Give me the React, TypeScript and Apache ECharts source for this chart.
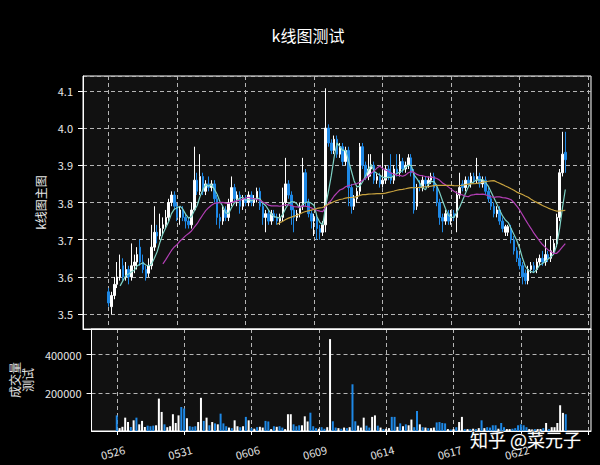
import React, { useEffect, useRef } from 'react';
import * as echarts from 'echarts';

const tickLabels = ['0526', '0531', '0606', '0609', '0614', '0617', '0622'];
const barsPerTick = 24;
const padBars = 9;

const opens = [
  3.56,3.52,3.55,3.58,3.60,3.63,3.60,3.62,3.60,3.63,
  3.64,3.68,3.64,3.62,3.61,3.63,3.68,3.72,3.71,3.73,
  3.74,3.76,3.80,3.82,3.79,3.76,3.78,3.76,3.75,3.74,
  3.78,3.86,3.83,3.87,3.83,3.85,3.84,3.85,3.81,3.76,
  3.75,3.78,3.76,3.80,3.84,3.81,3.82,3.79,3.81,3.80,
  3.82,3.80,3.81,3.83,3.79,3.76,3.77,3.75,3.77,3.76,
  3.75,3.76,3.80,3.85,3.82,3.78,3.76,3.77,3.79,3.88,
  3.80,3.77,3.75,3.76,3.73,3.72,3.74,4.00,3.96,3.94,
  3.97,3.93,3.95,3.91,3.94,3.84,3.79,3.81,3.83,3.95,
  3.90,3.87,3.89,3.90,3.86,3.87,3.85,3.86,3.89,3.88,
  3.86,3.89,3.88,3.91,3.89,3.90,3.92,3.88,3.79,3.85,
  3.84,3.86,3.85,3.86,3.87,3.84,3.80,3.76,3.75,3.77,
  3.75,3.77,3.76,3.82,3.85,3.84,3.86,3.85,3.87,3.86,
  3.87,3.85,3.86,3.83,3.81,3.79,3.77,3.78,3.75,3.72,
  3.72,3.73,3.70,3.67,3.65,3.63,3.61,3.59,3.62,3.63,
  3.62,3.64,3.65,3.64,3.66,3.65,3.67,3.69,3.76,3.88,
  3.935,
];
const closes = [
  3.53,3.55,3.58,3.60,3.62,3.60,3.62,3.60,3.63,3.64,
  3.66,3.64,3.62,3.60,3.63,3.68,3.72,3.71,3.73,3.74,
  3.76,3.80,3.82,3.79,3.76,3.78,3.76,3.75,3.74,3.78,
  3.86,3.83,3.87,3.83,3.85,3.84,3.85,3.81,3.76,3.75,
  3.78,3.76,3.80,3.84,3.81,3.82,3.79,3.81,3.80,3.82,
  3.80,3.81,3.83,3.79,3.76,3.77,3.75,3.77,3.76,3.75,
  3.76,3.80,3.85,3.82,3.78,3.76,3.77,3.79,3.88,3.80,
  3.77,3.75,3.76,3.73,3.72,3.74,4.00,3.96,3.94,3.97,
  3.93,3.95,3.91,3.94,3.84,3.79,3.81,3.83,3.95,3.90,
  3.87,3.89,3.90,3.86,3.87,3.85,3.86,3.89,3.87,3.86,
  3.89,3.88,3.91,3.89,3.90,3.92,3.88,3.78,3.84,3.84,
  3.86,3.85,3.86,3.87,3.84,3.80,3.76,3.75,3.77,3.75,
  3.77,3.76,3.82,3.84,3.84,3.86,3.85,3.87,3.86,3.87,
  3.85,3.86,3.83,3.81,3.79,3.77,3.78,3.75,3.73,3.735,
  3.735,3.70,3.67,3.65,3.63,3.60,3.59,3.62,3.63,3.62,
  3.64,3.65,3.64,3.66,3.65,3.67,3.69,3.76,3.88,3.93,
  3.915,
];
const lows = [
  3.52,3.50,3.54,3.57,3.59,3.59,3.59,3.58,3.59,3.61,
  3.62,3.63,3.61,3.59,3.60,3.62,3.67,3.69,3.70,3.71,
  3.73,3.75,3.79,3.78,3.75,3.74,3.75,3.73,3.73,3.73,
  3.78,3.82,3.82,3.82,3.82,3.83,3.83,3.80,3.74,3.73,
  3.74,3.75,3.75,3.79,3.80,3.79,3.77,3.78,3.79,3.79,
  3.79,3.79,3.80,3.78,3.74,3.72,3.74,3.74,3.75,3.74,
  3.74,3.75,3.79,3.81,3.74,3.72,3.75,3.76,3.78,3.79,
  3.76,3.73,3.71,3.70,3.70,3.71,3.72,3.95,3.93,3.93,
  3.92,3.92,3.90,3.90,3.79,3.77,3.78,3.80,3.82,3.89,
  3.86,3.86,3.87,3.85,3.85,3.84,3.84,3.85,3.86,3.85,
  3.85,3.87,3.87,3.88,3.88,3.89,3.87,3.77,3.78,3.83,
  3.83,3.84,3.84,3.85,3.83,3.79,3.74,3.72,3.74,3.74,
  3.74,3.75,3.72,3.81,3.83,3.83,3.84,3.84,3.85,3.85,
  3.84,3.84,3.82,3.80,3.78,3.76,3.76,3.74,3.72,3.71,
  3.71,3.69,3.66,3.64,3.62,3.58,3.58,3.58,3.61,3.61,
  3.61,3.63,3.63,3.63,3.64,3.64,3.66,3.68,3.75,3.87,
  3.88,
];
const highs = [
  3.57,3.56,3.60,3.64,3.66,3.65,3.64,3.63,3.69,3.66,
  3.68,3.70,3.66,3.63,3.65,3.74,3.79,3.74,3.77,3.76,
  3.78,3.81,3.83,3.83,3.80,3.79,3.79,3.77,3.76,3.80,
  3.95,3.88,3.93,3.88,3.86,3.87,3.86,3.86,3.82,3.77,
  3.79,3.79,3.81,3.87,3.85,3.83,3.83,3.82,3.82,3.83,
  3.83,3.82,3.84,3.84,3.80,3.78,3.78,3.78,3.78,3.77,
  3.77,3.84,3.92,3.86,3.83,3.79,3.78,3.80,3.92,3.89,
  3.81,3.78,3.77,3.77,3.74,3.75,4.107,4.01,3.97,3.98,
  3.98,3.96,3.96,3.95,3.95,3.85,3.82,3.84,3.96,3.96,
  3.91,3.93,3.93,3.91,3.88,3.88,3.93,3.90,3.90,3.93,
  3.90,3.93,3.93,3.92,3.91,3.93,3.93,3.89,3.85,3.86,
  3.87,3.87,3.87,3.88,3.88,3.85,3.81,3.77,3.78,3.78,
  3.78,3.78,3.83,3.88,3.86,3.87,3.87,3.88,3.88,3.92,
  3.88,3.87,3.87,3.84,3.82,3.80,3.79,3.79,3.76,3.74,
  3.74,3.74,3.71,3.68,3.66,3.64,3.62,3.63,3.64,3.64,
  3.65,3.66,3.67,3.70,3.67,3.71,3.70,3.77,3.89,3.99,
  3.99,
];
const volumes = [
  82000,15000,22000,70000,47000,21000,56000,70000,35000,53000,
  21000,28000,25000,28000,30000,170000,100000,35000,20000,25000,
  88000,42000,82000,126000,118000,67000,25000,22000,25000,47000,
  174000,53000,70000,30000,47000,40000,35000,91000,40000,25000,
  18000,15000,56000,25000,20000,25000,74000,56000,15000,12000,
  20000,22000,18000,53000,50000,10000,25000,22000,25000,18000,
  10000,88000,88000,35000,25000,30000,30000,77000,50000,96000,
  25000,15000,12000,20000,12000,20000,482000,51000,18000,15000,
  12000,18000,15000,20000,245000,51000,28000,18000,70000,28000,
  18000,74000,82000,28000,18000,10000,12000,15000,74000,74000,
  22000,40000,25000,35000,30000,60000,20000,105000,35000,20000,
  18000,15000,15000,18000,45000,47000,42000,40000,10000,8000,
  10000,20000,47000,74000,10000,10000,10000,12000,10000,15000,
  56000,15000,20000,18000,30000,30000,12000,42000,20000,10000,
  10000,12000,15000,30000,35000,30000,20000,10000,8000,10000,
  10000,10000,15000,42000,10000,20000,20000,42000,135000,95000,
  88000,
];

const maPeriods = [5, 20, 60];
const maColors = ['#7fd3c6', '#b33fb5', '#c9a33f'];
const UP = '#ffffff';
const DOWN = '#1e88e5';
const FONT = '"Noto Sans CJK SC", "Noto Sans", sans-serif';
const LABEL = '#e6e6e6';
const GRIDLINE = { type: [4, 3] as any, color: '#b5b5b5', width: 1 };

export default function App() {
  const ref = useRef<HTMLDivElement>(null);
  useEffect(() => {
    const chart = echarts.init(ref.current!, null, { renderer: 'svg' });
    const n = closes.length;
    const total = padBars + n + padBars;
    const isTick = (k: number) => k >= padBars && (k - padBars) % barsPerTick === 0;
    const categories = Array.from({ length: total }, (_, k) => 'c' + k);

    const candleData = closes.map((c, i) => [i + padBars, opens[i], c, lows[i], highs[i]]);
    const volData = volumes.map((v, i) => ({
      value: [i + padBars, v],
      itemStyle: { color: closes[i] >= opens[i] ? UP : DOWN },
    }));
    const maSeries = maPeriods.map((p, m) => {
      const data: any[] = [];
      for (let i = p - 1; i < n; i++) {
        let s = 0;
        for (let j = i - p + 1; j <= i; j++) s += closes[j];
        data.push([i + padBars, s / p]);
      }
      return {
        type: 'line', name: 'MA' + p, xAxisIndex: 0, yAxisIndex: 0,
        data, showSymbol: false, symbol: 'none', smooth: false,
        lineStyle: { color: maColors[m], width: 1.2 }, encode: { x: 0, y: 1 }, z: 3,
      };
    });

    const xBase = (gi: number, labels: boolean) => ({
      type: 'category', gridIndex: gi, data: categories, boundaryGap: false,
      axisLine: { show: true, lineStyle: { color: '#ffffff' } },
      axisTick: { show: labels, interval: (k: number) => isTick(k), length: 4, lineStyle: { color: '#ffffff' } },
      axisLabel: labels ? {
        show: true, interval: (k: number) => isTick(k),
        formatter: (_v: string, k: number) => tickLabels[(k - padBars) / barsPerTick] ?? '',
        rotate: 15, align: 'center', verticalAlign: 'top', margin: 9,
        padding: [5, 14, 0, 0],
        color: LABEL, fontSize: 11, fontFamily: FONT,
      } : { show: false },
      splitLine: { show: true, interval: (k: number) => isTick(k), lineStyle: GRIDLINE },
    });

    chart.setOption({
      animation: false,
      backgroundColor: '#000000',
      textStyle: { fontFamily: FONT },
      grid: [
        { left: 83, top: 76, width: 508, height: 253, show: true, backgroundColor: '#111111', borderColor: '#ffffff', borderWidth: 1 },
        { left: 83, top: 329, width: 508, height: 102, show: true, backgroundColor: '#111111', borderColor: '#ffffff', borderWidth: 1 },
      ],
      xAxis: [xBase(0, false), xBase(1, true)],
      yAxis: [
        {
          type: 'value', gridIndex: 0, min: 3.46, max: 4.14, splitNumber: 7,
          axisLine: { show: true, lineStyle: { color: '#ffffff' } },
          axisTick: { show: true, length: 5, lineStyle: { color: '#ffffff' } },
          axisLabel: { color: LABEL, fontSize: 11, margin: 10, fontFamily: FONT,
            formatter: (v: number) => v.toFixed(1), showMinLabel: false, showMaxLabel: false },
          splitLine: { show: true, lineStyle: GRIDLINE },
          name: 'k线图主图', nameLocation: 'middle', nameGap: 32,
          nameTextStyle: { color: LABEL, fontSize: 12, fontFamily: FONT },
        },
        {
          type: 'value', gridIndex: 1, min: 0, max: 535000, interval: 200000,
          axisLine: { show: true, lineStyle: { color: '#ffffff' } },
          axisTick: { show: true, length: 5, lineStyle: { color: '#ffffff' } },
          axisLabel: { color: LABEL, fontSize: 11, margin: 10, fontFamily: FONT,
            formatter: (v: number) => String(Math.round(v)), showMinLabel: false, showMaxLabel: false },
          splitLine: { show: true, lineStyle: GRIDLINE },
          name: '成交量\n测试', nameLocation: 'middle', nameGap: 50,
          nameTextStyle: { color: LABEL, fontSize: 12, lineHeight: 13, fontFamily: FONT },
        },
      ],
      series: [
        {
          type: 'candlestick', xAxisIndex: 0, yAxisIndex: 0, data: candleData,
          encode: { x: 0, y: [1, 2, 3, 4] }, barWidth: 2,
          itemStyle: { color: UP, color0: DOWN, borderColor: UP, borderColor0: DOWN, borderWidth: 1 },
          z: 2,
        },
        ...maSeries,
        {
          type: 'bar', xAxisIndex: 1, yAxisIndex: 1, data: volData,
          encode: { x: 0, y: 1 }, barWidth: 2,
        },
      ],
      graphic: [
        {
          type: 'text', x: 308, y: 35,
          style: { text: 'k线图测试', fill: '#ffffff', fontSize: 16, fontFamily: FONT, align: 'center', verticalAlign: 'middle' },
        },
        {
          type: 'text', x: 470, y: 439, z: 100,
          style: { text: '知乎 @菜元子', fill: '#ffffff', fontSize: 18, fontFamily: FONT, align: 'left', verticalAlign: 'middle',
            stroke: '#222222', lineWidth: 1 },
        },
      ],
    });
    return () => chart.dispose();
  }, []);
  return <div ref={ref} style={{ position: 'absolute', left: 0, top: 0, width: 600, height: 465 }} />;
}
